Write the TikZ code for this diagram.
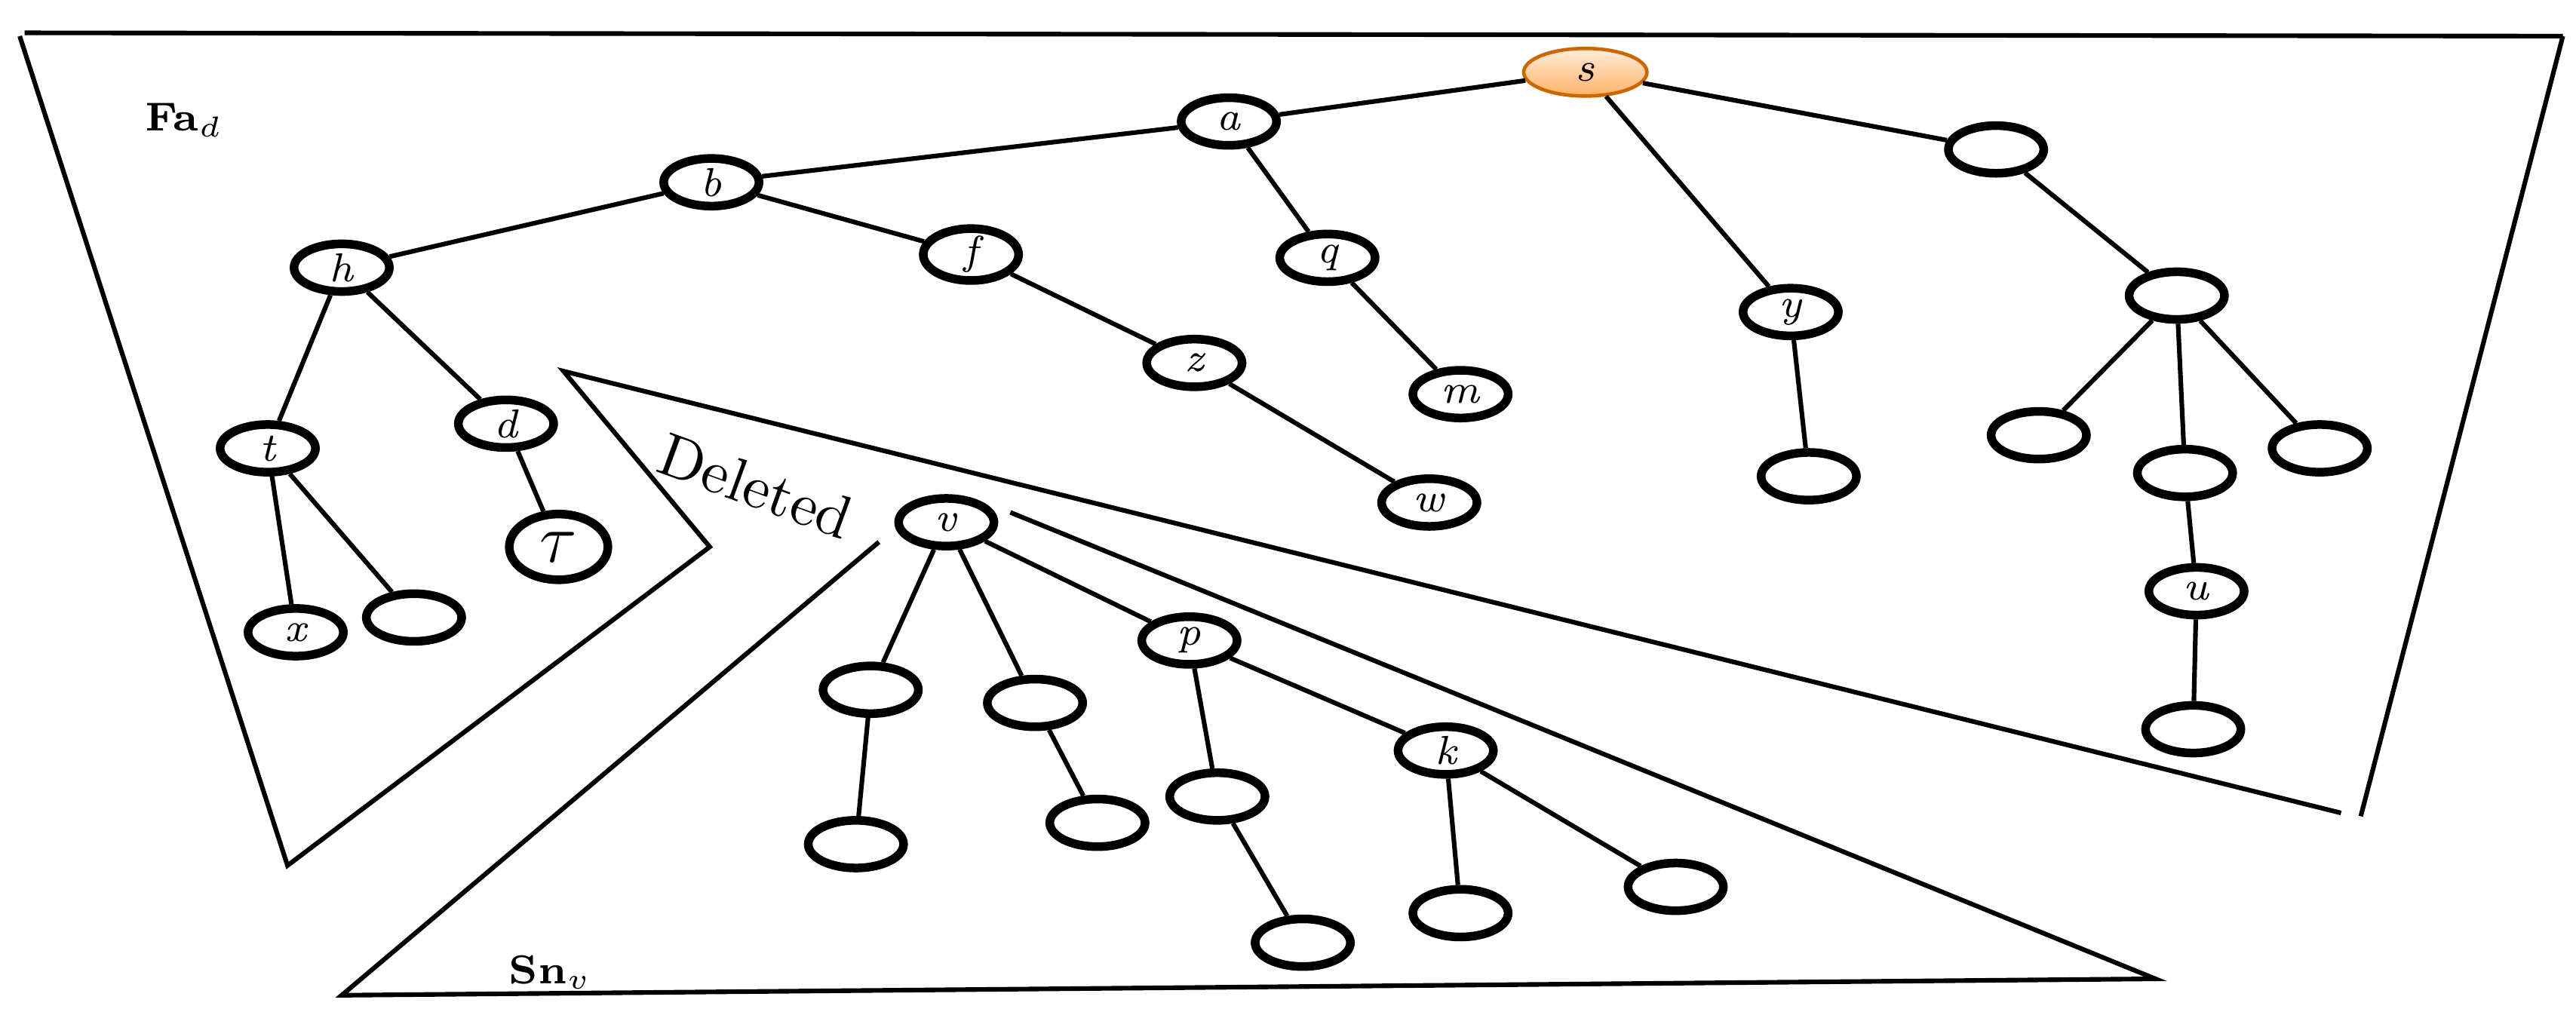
\documentclass[tikz,border=0pt]{standalone}
\usetikzlibrary{shapes.geometric}
\begin{document}
\begin{tikzpicture}[x=0.01cm,y=-0.01cm,
 nd/.style={ellipse,draw,line width=1.5pt,minimum width=0.58cm,minimum height=0.29cm,inner sep=0pt,font=\fontsize{7}{8}\selectfont\itshape},
 big/.style={nd,minimum width=0.6cm,minimum height=0.4cm,font=\fontsize{13}{14}\selectfont\itshape},
 src/.style={nd,draw=orange!80!black,line width=0.6pt,top color=orange!15,bottom color=orange!60,minimum width=0.75cm},
 ed/.style={line width=0.8pt},
 bd/.style={line width=0.8pt}]
\useasboundingbox (0,0) rectangle (1568,616);
% boundary
\coordinate (p1) at (15,20); \coordinate (p2) at (1560,22);
\coordinate (p3) at (12,22); \coordinate (p4) at (175,527);
\coordinate (p5) at (432,333); \coordinate (p6) at (343,226);
\coordinate (p7) at (1425,495); \coordinate (p8) at (1437,497);
\coordinate (q1) at (535,330); \coordinate (q2) at (208,606);
\coordinate (q3) at (1312,596); \coordinate (q4) at (615,312);
\draw[bd] (p1)--(p2) (p2)--(p8);
\draw[bd] (p3)--(p4)--(p5)--(p6)--(p7);
\draw[bd] (q1)--(q2)--(q3)--(q4);
\node[font=\bfseries\fontsize{7}{8}\selectfont] (fa) at (112,73) {Fa$_d$};
\node[font=\bfseries\fontsize{7}{8}\selectfont] (sn) at (335,592) {Sn$_v$};
\node[rotate=-20,font=\fontsize{10.5}{12}\selectfont] (del) at (460,296) {Deleted};
% nodes
\node[src] (s) at (965,44) {s};
\node[nd] (a) at (748,74) {a};
\node[nd] (b) at (433,111) {b};
\node[nd] (h) at (208,163) {h};
\node[nd] (f) at (591,155) {f};
\node[nd] (q) at (808,157) {q};
\node[nd] (z) at (727,221) {z};
\node[nd] (m) at (889,240) {m};
\node[nd] (w) at (870,306) {w};
\node[nd] (y) at (1090,190) {y};
\node[nd] (yc) at (1101,290) {};
\node[nd] (r1) at (1215,91) {};
\node[nd] (u1) at (1325,180) {};
\node[nd] (c1) at (1241,265) {};
\node[nd] (c2) at (1330,288) {};
\node[nd] (c3) at (1412,273) {};
\node[nd] (u) at (1337,360) {u};
\node[nd] (uc) at (1335,444) {};
\node[nd] (t) at (163,273) {t};
\node[nd] (d) at (308,258) {d};
\node[big] (tau) at (340,333) {$\tau$};
\node[nd] (x) at (180,385) {x};
\node[nd] (tc) at (252,376) {};
\node[nd] (v) at (576,318) {v};
\node[nd] (v1) at (530,420) {};
\node[nd] (v2) at (630,428) {};
\node[nd] (v1c) at (521,514) {};
\node[nd] (v2c) at (668,501) {};
\node[nd] (p) at (724,390) {p};
\node[nd] (pc) at (741,485) {};
\node[nd] (pgc) at (793,574) {};
\node[nd] (k) at (880,457) {k};
\node[nd] (k1) at (889,556) {};
\node[nd] (k2) at (1020,540) {};
% edges
\foreach \A/\B in {s/a,s/r1,s/y,a/b,a/q,b/h,b/f,f/z,z/w,q/m,h/t,h/d,d/tau,t/x,t/tc,y/yc,r1/u1,u1/c1,u1/c2,u1/c3,c2/u,u/uc,v/v1,v/v2,v1/v1c,v2/v2c,v/p,p/pc,pc/pgc,p/k,k/k1,k/k2}
 \draw[ed] (\A)--(\B);
\end{tikzpicture}
\end{document}
